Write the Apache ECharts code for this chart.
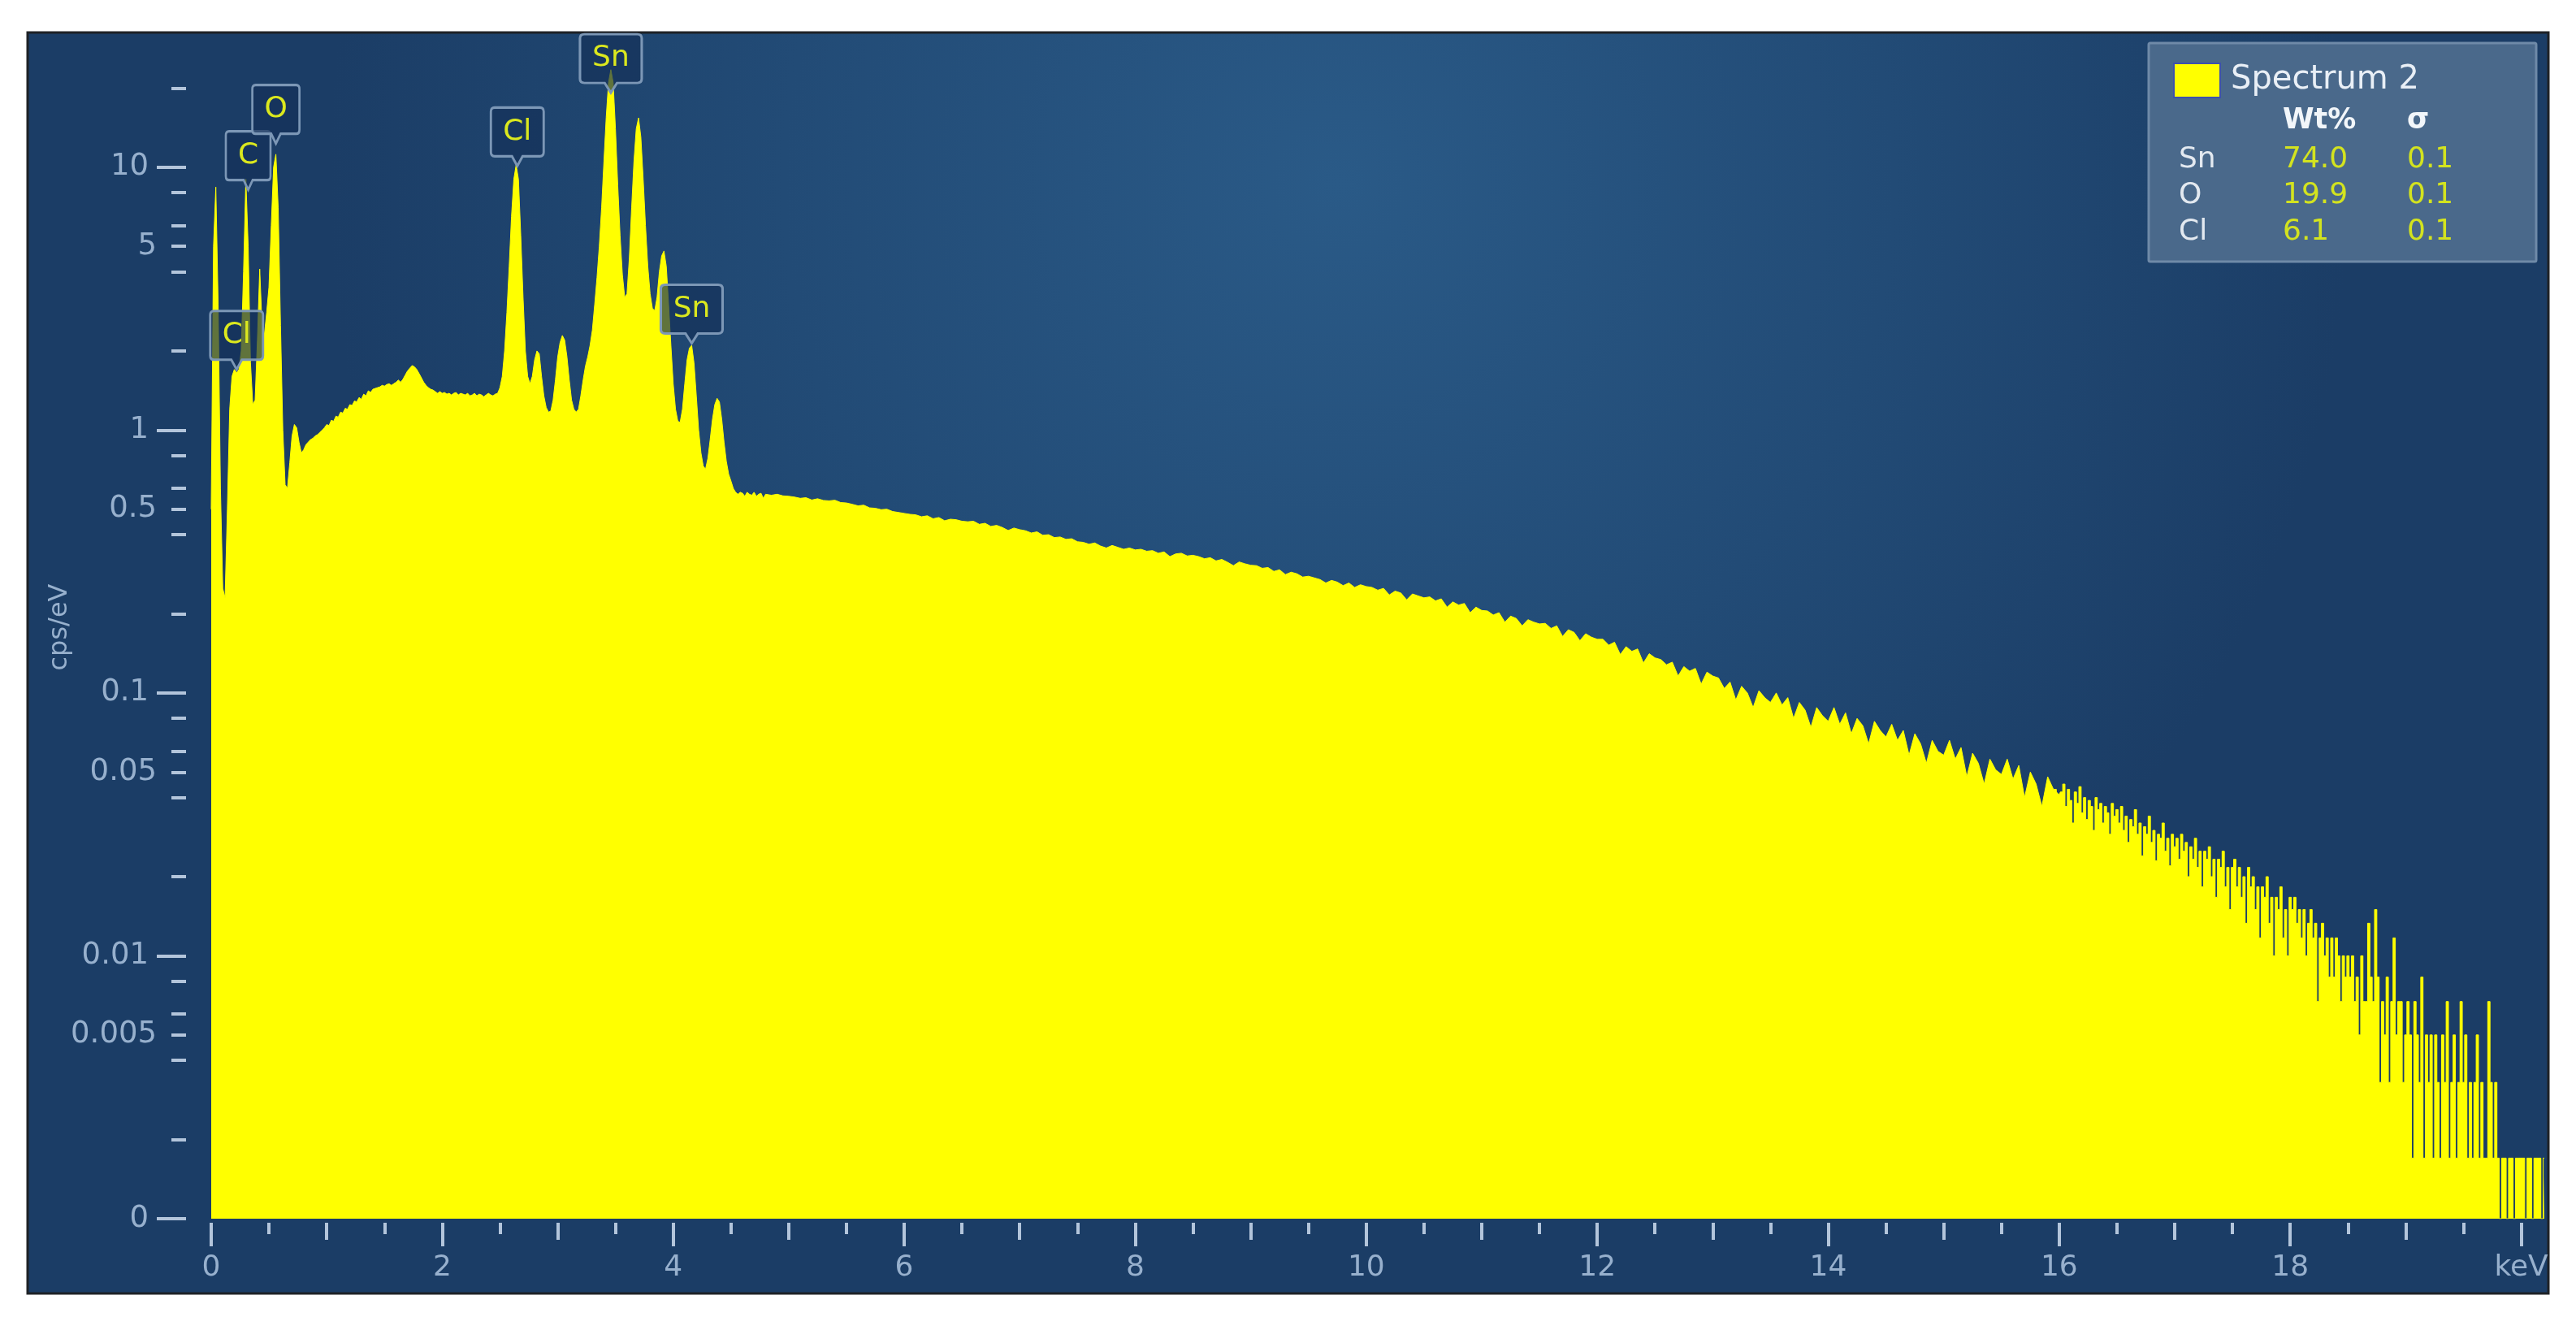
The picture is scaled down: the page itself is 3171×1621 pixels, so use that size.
<!DOCTYPE html>
<html>
<head>
<meta charset="utf-8">
<script src="https://cdn.jsdelivr.net/npm/echarts/dist/echarts.min.js"></script>
<style>
html,body{margin:0;padding:0;background:#ffffff;}
#chart{width:3171px;height:1621px;}
</style>
</head>
<body>
<div id="chart"></div>
<script>
// ---------------- DATA ----------------
// Spectrum, low-energy part: 0.00 .. 4.80 keV, channel step 0.02 keV (cps/eV)
const lowStart = 0.00, lowStep = 0.02;
const spectrumLow = [
  0.5, 5, 8.4, 3, 0.6, 0.25, 0.23, 0.5, 1.2, 1.6,
  1.7, 1.65, 1.7, 2.0, 4, 9, 5, 1.8, 1.25, 1.3,
  2.2, 4.1, 2.5, 2.3, 2.8, 3.5, 6, 10, 11.2, 7,
  2.5, 1.0, 0.62, 0.6, 0.75, 0.95, 1.05, 1.02, 0.9, 0.82,
  0.84, 0.88, 0.9, 0.92, 0.93, 0.95, 0.96, 0.98, 1.0, 1.02,
  1.05, 1.04, 1.09, 1.08, 1.13, 1.12, 1.17, 1.16, 1.21, 1.2,
  1.25, 1.24, 1.29, 1.28, 1.33, 1.31, 1.37, 1.35, 1.41, 1.39,
  1.43, 1.44, 1.45, 1.46, 1.48, 1.47, 1.49, 1.5, 1.48, 1.5,
  1.52, 1.55, 1.52, 1.56, 1.62, 1.68, 1.72, 1.76, 1.74, 1.7,
  1.64, 1.58, 1.52, 1.48, 1.45, 1.43, 1.42, 1.4, 1.38, 1.4,
  1.38, 1.39, 1.37, 1.38, 1.36, 1.38, 1.39, 1.36, 1.38, 1.37,
  1.36, 1.38, 1.35, 1.36, 1.38, 1.35, 1.37, 1.36, 1.34, 1.36,
  1.38, 1.36, 1.35, 1.37, 1.38, 1.45, 1.6, 2.0, 2.8, 4.2,
  6.5, 9, 10.2, 9, 5.5, 3.2, 2.0, 1.6, 1.5, 1.6,
  1.85, 2.0, 1.95, 1.6, 1.35, 1.22, 1.17, 1.18, 1.3, 1.55,
  1.9, 2.15, 2.29, 2.2, 1.9, 1.55, 1.3, 1.2, 1.17, 1.2,
  1.35, 1.55, 1.75, 1.9, 2.1, 2.4, 3.0, 3.8, 5.0, 7.0,
  10.5, 15.5, 21, 23.5, 21, 14, 8.5, 5.5, 3.9, 3.2,
  3.3, 4.5, 7, 10.5, 14, 15.4, 13, 9, 6, 4.2,
  3.3, 2.9, 2.85, 3.2, 4.0, 4.6, 4.8, 4.2, 3.0, 2.1,
  1.5, 1.2, 1.08, 1.07, 1.2, 1.5, 1.85, 2.05, 2.1, 1.8,
  1.35, 1.0, 0.82, 0.73, 0.71, 0.78, 0.92, 1.1, 1.25, 1.32,
  1.28, 1.1, 0.9, 0.76, 0.68, 0.64, 0.6, 0.58, 0.57, 0.58,
  0.575, 0.56, 0.58, 0.57, 0.565, 0.58, 0.56, 0.57, 0.575, 0.55,
  0.57
];
// Spectrum, middle part: 4.85 .. 16.00 keV, step 0.05 keV
const midStart = 4.85, midStep = 0.05;
const spectrumMid = [
  0.565, 0.57, 0.562, 0.56,
  0.556, 0.55, 0.553, 0.542, 0.548, 0.54, 0.538, 0.541, 0.53, 0.528,
  0.522, 0.515, 0.518, 0.506, 0.504, 0.498, 0.5, 0.49, 0.486, 0.482,
  0.478, 0.476, 0.468, 0.472, 0.46, 0.465, 0.452, 0.458, 0.456, 0.45,
  0.448, 0.45, 0.438, 0.442, 0.43, 0.434, 0.426, 0.415, 0.424, 0.418,
  0.414, 0.406, 0.41, 0.398, 0.4, 0.39, 0.392, 0.384, 0.386, 0.376,
  0.374, 0.368, 0.372, 0.362, 0.356, 0.364, 0.358, 0.352, 0.356, 0.35,
  0.352, 0.346, 0.348, 0.34, 0.344, 0.33, 0.338, 0.34, 0.332, 0.334,
  0.33, 0.324, 0.327, 0.318, 0.322, 0.314, 0.305, 0.315, 0.31, 0.306,
  0.305, 0.298, 0.3, 0.29, 0.294, 0.282, 0.288, 0.284, 0.276, 0.278,
  0.274, 0.27, 0.262, 0.268, 0.264, 0.256, 0.262, 0.252, 0.258, 0.254,
  0.252, 0.246, 0.25, 0.236, 0.244, 0.24, 0.226, 0.238, 0.234, 0.23,
  0.232, 0.224, 0.228, 0.212, 0.222, 0.216, 0.219, 0.202, 0.212, 0.206,
  0.205, 0.198, 0.202, 0.186, 0.196, 0.192, 0.18, 0.19, 0.186, 0.183,
  0.184, 0.176, 0.18, 0.164, 0.174, 0.17, 0.158, 0.168, 0.163, 0.16,
  0.16, 0.152, 0.156, 0.14, 0.15, 0.144, 0.147, 0.13, 0.141, 0.136,
  0.134, 0.128, 0.131, 0.116, 0.126, 0.121, 0.124, 0.108, 0.12, 0.116,
  0.114, 0.104, 0.11, 0.094, 0.106, 0.1, 0.088, 0.102, 0.096, 0.092,
  0.1, 0.09, 0.096, 0.08, 0.092, 0.086, 0.074, 0.088, 0.082, 0.078,
  0.088, 0.076, 0.084, 0.07, 0.08, 0.075, 0.064, 0.078, 0.072, 0.068,
  0.076, 0.066, 0.072, 0.058, 0.07, 0.064, 0.054, 0.066, 0.06, 0.058,
  0.066, 0.056, 0.062, 0.048, 0.059, 0.054, 0.045, 0.056, 0.051, 0.049,
  0.056, 0.047, 0.053, 0.04, 0.05, 0.045, 0.037, 0.048, 0.043, 0.041
];
// Spectrum, high-energy tail: 16.02 .. 20.20 keV, step 0.02 keV (0 = no counts)
const highStart = 16.02, highStep = 0.02;
const spectrumHigh = [
  0.042, 0.045, 0.037, 0.043, 0.039, 0.032, 0.042, 0.038, 0.044, 0.035, 0.04, 0.033, 0.039, 0.037, 0.03, 0.04, 0.036, 0.038, 0.032, 0.037, 0.035, 0.029, 0.038, 0.034, 0.036,
  0.032, 0.037, 0.03, 0.034, 0.027, 0.033, 0.031, 0.036, 0.029, 0.032, 0.024, 0.031, 0.029, 0.034, 0.027, 0.03, 0.023, 0.029, 0.028, 0.032, 0.025, 0.028, 0.022, 0.029, 0.026,
  0.028, 0.0233, 0.029, 0.025, 0.027, 0.02, 0.026, 0.0233, 0.028, 0.0217, 0.025, 0.0183, 0.025, 0.0233, 0.026, 0.02, 0.0233, 0.0167, 0.0233, 0.0217, 0.025, 0.0183, 0.0217, 0.015, 0.0217,
  0.0233, 0.0183, 0.0217, 0.0167, 0.02, 0.0133, 0.0217, 0.0183, 0.02, 0.015, 0.0183, 0.0117, 0.0183, 0.0167, 0.02, 0.0133, 0.0167, 0.01, 0.0167, 0.015, 0.0183, 0.0117, 0.015, 0.01, 0.0167,
  0.015, 0.0167, 0.0133, 0.015, 0.0117, 0.015, 0.01, 0.0133, 0.015, 0.0117, 0.0133, 0.0067, 0.0117, 0.0133, 0.01, 0.0117, 0.0083, 0.0117, 0.0083, 0.0117, 0.01, 0.0067, 0.01, 0.0083, 0.01,
  0.0083, 0.01, 0.0067, 0.0083, 0.005, 0.01, 0.0067, 0.0067, 0.0133, 0.0083, 0.0067, 0.015, 0.0083, 0.0033, 0.0067, 0.005, 0.0083, 0.0033, 0.0067, 0.0117, 0.005, 0.0067, 0.0067, 0.0033, 0.005,
  0.0067, 0.005, 0.0017, 0.0067, 0.005, 0.0033, 0.0083, 0.0017, 0.005, 0.0033, 0.005, 0.0017, 0.005, 0.0033, 0.0017, 0.005, 0.0033, 0.0067, 0.0017, 0.0033, 0.005, 0.0017, 0.0033, 0.0067, 0.0033,
  0.005, 0.0017, 0.0033, 0.0017, 0.0033, 0.005, 0.0017, 0.0033, 0.0017, 0.0017, 0.0067, 0.0033, 0.0017, 0.0033, 0.0017, 0, 0.0017, 0.0017, 0, 0.0017, 0.0017, 0, 0.0017, 0.0017, 0.0017,
  0.0017, 0, 0.0017, 0.0017, 0, 0.0017, 0.0017, 0.0017, 0, 0.0017
];

// Axis ticks / labels
const xMajorTicks = [0, 2, 4, 6, 8, 10, 12, 14, 16, 18, 20];
const xMajorLabels = ['0', '2', '4', '6', '8', '10', '12', '14', '16', '18', 'keV'];
const xMidTicks = [1, 3, 5, 7, 9, 11, 13, 15, 17, 19];
const xMinorTicks = [0.5, 1.5, 2.5, 3.5, 4.5, 5.5, 6.5, 7.5, 8.5, 9.5, 10.5, 11.5, 12.5, 13.5, 14.5, 15.5, 16.5, 17.5, 18.5, 19.5];
const yDecadeTicks = [0.001, 0.01, 0.1, 1, 10];
const yDecadeLabels = ['0', '0.01', '0.1', '1', '10'];
const yMinorTicks = [0.002, 0.004, 0.005, 0.006, 0.008, 0.02, 0.04, 0.05, 0.06, 0.08,
                     0.2, 0.4, 0.5, 0.6, 0.8, 2, 4, 5, 6, 8, 20];
const yHalfLabelValues = [0.005, 0.05, 0.5, 5];
const yHalfLabels = ['0.005', '0.05', '0.5', '5'];

// Peak identification markers
const peakElements = ['Cl', 'C', 'O', 'Cl', 'Sn', 'Sn'];
const peakEnergies = [0.22, 0.32, 0.56, 2.65, 3.46, 4.16];
const peakMarkerValues = [1.7, 8.2, 12.3, 10.1, 19.2, 2.14];

// Quantification table
const seriesName = 'Spectrum 2';
const quantElements = ['Sn', 'O', 'Cl'];
const quantWt = ['74.0', '19.9', '6.1'];
const quantSigma = ['0.1', '0.1', '0.1'];

// ---------------- BUILD ----------------
const Y_MIN = 0.001, Y_MAX = 31.62, X_MIN = 0, X_MAX = 20.2;
function seg(start, step, vals) {
  return vals.map((v, i) => [+(start + i * step).toFixed(3), Math.max(v, Y_MIN)]);
}
const midData = seg(midStart, midStep, spectrumMid);
const mainData = seg(lowStart, lowStep, spectrumLow).concat(midData);
const tailData = midData.slice(-2).concat(seg(highStart, highStep, spectrumHigh));

const FONT = 'DejaVu Sans';
const TICK_COLOR = '#b3c5db';
const LABEL_COLOR = '#97b0cd';
const YELLOW = '#ffff00';
const PEAK_TEXT = '#dbe81e';
const PEAK_FONT = 36;

const measureCtx = document.createElement('canvas').getContext('2d');
measureCtx.font = PEAK_FONT + 'px ' + FONT;

function fmtFrom(values, labels) {
  return function (v) {
    for (let i = 0; i < values.length; i++) {
      if (Math.abs(v - values[i]) < values[i] * 1e-6 + 1e-9) return labels[i];
    }
    return '';
  };
}

function xAxisCfg(ticks, len, labels) {
  return {
    type: 'value', position: 'bottom', offset: 5, min: X_MIN, max: X_MAX,
    axisLine: { show: false, onZero: false },
    splitLine: { show: false },
    axisTick: { show: true, length: len, customValues: ticks, lineStyle: { color: TICK_COLOR, width: 4 } },
    axisLabel: labels ? {
      show: true, customValues: ticks, formatter: fmtFrom(ticks, labels), margin: 38,
      color: LABEL_COLOR, fontSize: 36, fontFamily: FONT
    } : { show: false }
  };
}

function yAxisCfg(ticks, len, labelVals, labels, margin, extra) {
  return Object.assign({
    type: 'log', logBase: 10, position: 'left', offset: 31, min: Y_MIN, max: Y_MAX,
    axisLine: { show: false, onZero: false },
    splitLine: { show: false },
    minorTick: { show: false },
    axisTick: { show: true, length: len, customValues: ticks, lineStyle: { color: TICK_COLOR, width: 4 } },
    axisLabel: {
      show: true, customValues: labelVals, formatter: fmtFrom(labelVals, labels), margin: margin,
      color: LABEL_COLOR, fontSize: 37, fontFamily: FONT
    }
  }, extra || {});
}

const peakData = peakElements.map((el, i) => ({
  name: el,
  value: [peakEnergies[i], peakMarkerValues[i]],
  symbolSize: [Math.round(measureCtx.measureText(el).width + 30), 72]
}));

const tableGraphics = [];
tableGraphics.push({
  type: 'rect', z: 3, silent: true,
  shape: { x: 2645, y: 53, width: 477, height: 269, r: 2 },
  style: { fill: '#4a698b', stroke: '#6f8aa8', lineWidth: 3 }
});
tableGraphics.push({ type: 'text', z: 6, silent: true,
  style: { text: 'Wt%', x: 2810, y: 149, fill: '#f2f6fa', font: 'bold 35px ' + FONT, verticalAlign: 'middle', align: 'left' } });
tableGraphics.push({ type: 'text', z: 6, silent: true,
  style: { text: 'σ', x: 2963, y: 149, fill: '#f2f6fa', font: 'bold 35px ' + FONT, verticalAlign: 'middle', align: 'left' } });
const rowY = [197, 241, 286];
quantElements.forEach((el, i) => {
  tableGraphics.push({ type: 'text', z: 6, silent: true,
    style: { text: el, x: 2682, y: rowY[i], fill: '#e3e9f0', font: '36px ' + FONT, verticalAlign: 'middle', align: 'left' } });
  tableGraphics.push({ type: 'text', z: 6, silent: true,
    style: { text: quantWt[i], x: 2810, y: rowY[i], fill: '#d3e31f', font: '36px ' + FONT, verticalAlign: 'middle', align: 'left' } });
  tableGraphics.push({ type: 'text', z: 6, silent: true,
    style: { text: quantSigma[i], x: 2963, y: rowY[i], fill: '#d3e31f', font: '36px ' + FONT, verticalAlign: 'middle', align: 'left' } });
});

const option = {
  animation: false,
  backgroundColor: '#ffffff',
  grid: { left: 260, right: 39, top: 44, bottom: 121, containLabel: false },
  xAxis: [
    xAxisCfg(xMajorTicks, 29, xMajorLabels),
    xAxisCfg(xMidTicks, 21, null),
    xAxisCfg(xMinorTicks, 14, null)
  ],
  yAxis: [
    yAxisCfg(yDecadeTicks, 36, yDecadeTicks, yDecadeLabels, 46, {
      name: 'cps/eV', nameLocation: 'middle', nameRotate: 90, nameGap: 136,
      nameTextStyle: { color: LABEL_COLOR, fontSize: 32, fontFamily: FONT }
    }),
    yAxisCfg(yMinorTicks, 18, yHalfLabelValues, yHalfLabels, 36)
  ],
  legend: {
    show: true, left: 2670, top: 72, orient: 'vertical', selectedMode: false,
    itemWidth: 57, itemHeight: 42, icon: 'rect', itemGap: 0,
    data: [{ name: seriesName, itemStyle: { color: YELLOW, borderColor: '#3d50ad', borderWidth: 2 } }],
    textStyle: { color: '#e9eff6', fontSize: 40, fontFamily: FONT, padding: [0, 0, 0, 8] },
    z: 5
  },
  graphic: [
    {
      type: 'rect', z: -10, silent: true,
      shape: { x: 34, y: 40, width: 3103, height: 1552 },
      style: {
        fill: {
          type: 'radial', x: 0.52, y: 0.12, r: 0.8,
          colorStops: [
            { offset: 0, color: '#2a5a87' },
            { offset: 0.55, color: '#224b76' },
            { offset: 1, color: '#1b3d66' }
          ]
        },
        stroke: '#1f2226', lineWidth: 3
      }
    }
  ].concat(tableGraphics),
  series: [
    {
      name: seriesName, type: 'line', xAxisIndex: 0, yAxisIndex: 0,
      data: mainData, showSymbol: false, symbol: 'none', sampling: null,
      lineStyle: { color: YELLOW, width: 1 },
      itemStyle: { color: YELLOW },
      areaStyle: { color: YELLOW, opacity: 1, origin: 'start' },
      z: 2, silent: true
    },
    {
      name: seriesName, type: 'line', xAxisIndex: 0, yAxisIndex: 0,
      data: tailData, showSymbol: false, symbol: 'none', step: 'middle',
      lineStyle: { color: YELLOW, width: 1 },
      itemStyle: { color: YELLOW },
      areaStyle: { color: YELLOW, opacity: 1, origin: 'start' },
      z: 2, silent: true
    },
    {
      name: 'peaks', type: 'scatter', xAxisIndex: 0, yAxisIndex: 0,
      data: peakData, clip: false, z: 5, silent: true,
      symbol: 'path://M5,0 L65,0 Q70,0 70,5 L70,55 Q70,60 65,60 L42,60 L35,72 L28,60 L5,60 Q0,60 0,55 L0,5 Q0,0 5,0 Z',
      symbolOffset: [0, -36],
      itemStyle: { color: 'rgba(20,48,88,0.68)', borderColor: '#7c97b6', borderWidth: 3, opacity: 1 },
      label: {
        show: true, position: 'inside', offset: [0, -6], formatter: '{b}',
        color: PEAK_TEXT, fontSize: PEAK_FONT, fontFamily: FONT
      }
    }
  ]
};

const chart = echarts.init(document.getElementById('chart'), null, { renderer: 'canvas' });
chart.setOption(option);
</script>
</body>
</html>
